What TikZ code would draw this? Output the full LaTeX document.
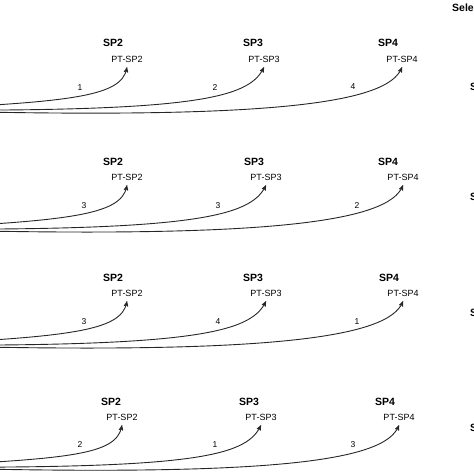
\documentclass[tikz,border=0pt]{standalone}
\usepackage{fontspec}
\setmainfont{Liberation Sans}
\usetikzlibrary{arrows}

\begin{document}
\begin{tikzpicture}[x=1pt,y=-1pt,
  sp/.style={font=\bfseries\fontsize{10.5}{12}\selectfont,inner sep=0pt},
  pt/.style={font=\fontsize{9}{10}\selectfont,inner sep=1.5pt,outer sep=3.5pt},
  num/.style={font=\fontsize{8.5}{10}\selectfont,inner sep=0pt},
  flow/.style={-stealth',line width=0.9pt,black!85}]
\useasboundingbox (0,0) rectangle (474,474);
\clip (0,0) rectangle (474,474);
% right column, cut off by the frame
\node[sp,anchor=west] (sel) at (452,8) {Sele};
\node[sp,anchor=west] (sa) at (470,87) {S};
\node[sp,anchor=west] (sb) at (470,197) {S};
\node[sp,anchor=west] (sc) at (470,313) {S};
\node[sp,anchor=west] (sd) at (470,428) {S};
% row a
\node[sp] (sp2a) at (113,43) {SP2};
\node[pt] (pt2a) at (127,59) {PT-SP2};
\node[sp] (sp3a) at (253,43) {SP3};
\node[pt] (pt3a) at (264,59) {PT-SP3};
\node[sp] (sp4a) at (388,43) {SP4};
\node[pt] (pt4a) at (402,59) {PT-SP4};
\coordinate (srca) at (-100,110);
\draw[flow] (srca) .. controls +(170,-8) and +(-6,30) .. (pt2a.south);
\draw[flow] (srca) .. controls +(290,2) and +(-16,32) .. (pt3a.south);
\draw[flow] (srca) .. controls +(380,11) and +(-15,35) .. (pt4a.south);
\node[num] (na2) at (80,88) {1};
\node[num] (na3) at (215,88) {2};
\node[num] (na4) at (353,87) {4};
% row b
\node[sp] (sp2b) at (113,162) {SP2};
\node[pt] (pt2b) at (127,177) {PT-SP2};
\node[sp] (sp3b) at (254,162) {SP3};
\node[pt] (pt3b) at (266,177) {PT-SP3};
\node[sp] (sp4b) at (388,162) {SP4};
\node[pt] (pt4b) at (403,177) {PT-SP4};
\coordinate (srcb) at (-100,229);
\draw[flow] (srcb) .. controls +(170,-8) and +(-6,30) .. (pt2b.south);
\draw[flow] (srcb) .. controls +(290,2) and +(-16,32) .. (pt3b.south);
\draw[flow] (srcb) .. controls +(380,11) and +(-15,35) .. (pt4b.south);
\node[num] (nb2) at (84,206) {3};
\node[num] (nb3) at (218,206) {3};
\node[num] (nb4) at (357,206) {2};
% row c
\node[sp] (sp2c) at (113,278) {SP2};
\node[pt] (pt2c) at (127,293) {PT-SP2};
\node[sp] (sp3c) at (253,278) {SP3};
\node[pt] (pt3c) at (266,293) {PT-SP3};
\node[sp] (sp4c) at (389,278) {SP4};
\node[pt] (pt4c) at (403,293) {PT-SP4};
\coordinate (srcc) at (-100,345);
\draw[flow] (srcc) .. controls +(170,-8) and +(-6,30) .. (pt2c.south);
\draw[flow] (srcc) .. controls +(290,2) and +(-16,32) .. (pt3c.south);
\draw[flow] (srcc) .. controls +(380,11) and +(-15,35) .. (pt4c.south);
\node[num] (nc2) at (84,322) {3};
\node[num] (nc3) at (218,322) {4};
\node[num] (nc4) at (357,322) {1};
% row d
\node[sp] (sp2d) at (111,402) {SP2};
\node[pt] (pt2d) at (122,417) {PT-SP2};
\node[sp] (sp3d) at (249,402) {SP3};
\node[pt] (pt3d) at (261,417) {PT-SP3};
\node[sp] (sp4d) at (385,402) {SP4};
\node[pt] (pt4d) at (399,417) {PT-SP4};
\coordinate (srcd) at (-100,467);
\draw[flow] (srcd) .. controls +(170,-8) and +(-6,30) .. (pt2d.south);
\draw[flow] (srcd) .. controls +(290,2) and +(-16,32) .. (pt3d.south);
\draw[flow] (srcd) .. controls +(380,11) and +(-15,35) .. (pt4d.south);
\node[num] (nd2) at (80,445) {2};
\node[num] (nd3) at (215,445) {1};
\node[num] (nd4) at (353,445) {3};
\end{tikzpicture}
\end{document}
